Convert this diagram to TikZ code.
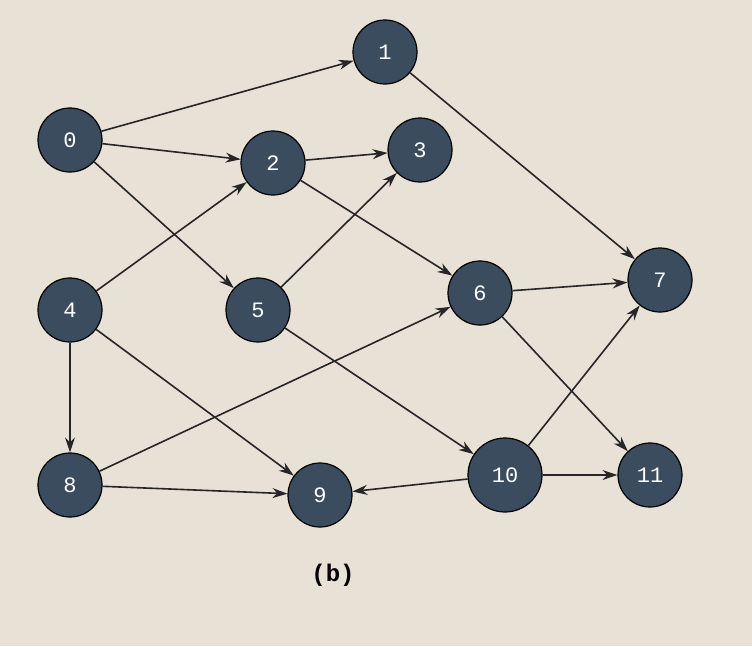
\documentclass[tikz,border=0pt]{standalone}
\usepackage{fontspec}
\setmonofont{Liberation Mono}
\usetikzlibrary{arrows.meta}
\definecolor{nodefill}{RGB}{58,76,94}
\definecolor{paper}{RGB}{232,225,214}
\begin{document}
\begin{tikzpicture}[x=1pt,y=-1pt,
  vtx/.style={circle,draw=black,line width=1.2pt,fill=nodefill,text=white,minimum size=64pt,inner sep=0pt,font=\ttfamily\fontsize{22}{22}\selectfont},
  big/.style={minimum size=74pt},
  edge/.style={-{Stealth[length=15pt,width=10pt]},line width=1.6pt,black!85}]
\fill[paper] (0,0) rectangle (752,646);
\useasboundingbox (0,0) rectangle (752,646);
\node[vtx] (n0) at (70,140) {0};
\node[vtx] (n1) at (385,52) {1};
\node[vtx] (n2) at (273,163) {2};
\node[vtx] (n3) at (420,150) {3};
\node[vtx] (n4) at (70,310) {4};
\node[vtx] (n5) at (258,310) {5};
\node[vtx] (n6) at (480,293) {6};
\node[vtx] (n7) at (660,280) {7};
\node[vtx] (n8) at (70,485) {8};
\node[vtx] (n9) at (320,495) {9};
\node[vtx,big] (n10) at (505,475) {10};
\node[vtx] (n11) at (650,475) {11};
\node[font=\ttfamily\bfseries\fontsize{24}{24}\selectfont] (lb) at (333,575) {(b)};
\foreach \a/\b in {n0/n1,n0/n2,n0/n5,n2/n3,n2/n6,n1/n7,n4/n2,n4/n9,n4/n8,n5/n3,n5/n10,n8/n6,n8/n9,n6/n7,n6/n11,n10/n9,n10/n7,n10/n11}
  \draw[edge] (\a) -- (\b);
\end{tikzpicture}
\end{document}
